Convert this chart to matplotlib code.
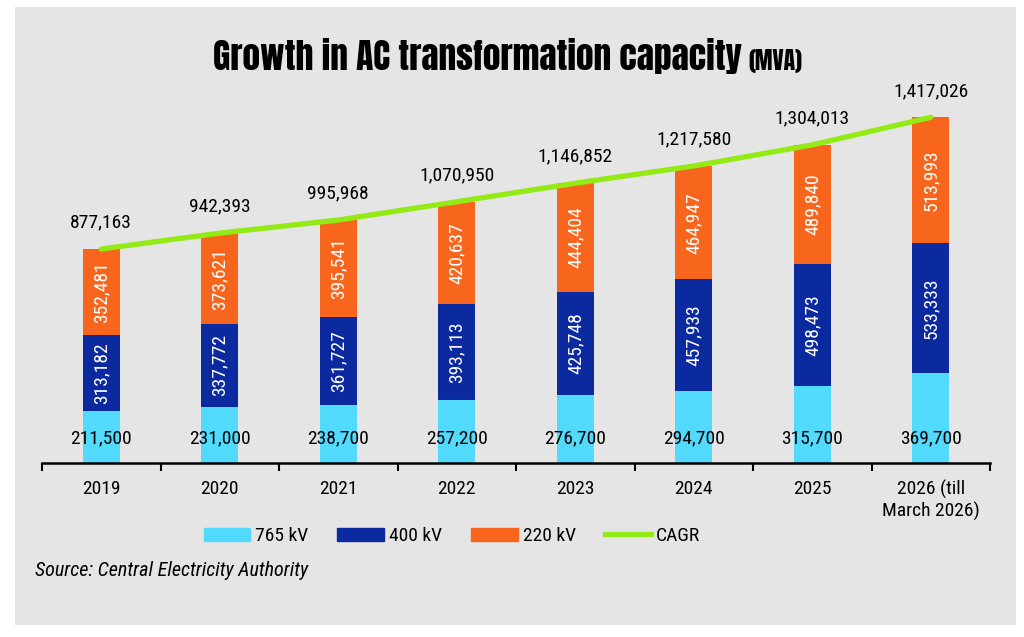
import matplotlib
matplotlib.use("Agg")
import matplotlib.pyplot as plt
from matplotlib import font_manager
from matplotlib.patches import Rectangle, Patch
from matplotlib.lines import Line2D

years = ['2019', '2020', '2021', '2022', '2023', '2024', '2025', '2026 (till\nMarch 2026)']
kv765 = [211500, 231000, 238700, 257200, 276700, 294700, 315700, 369700]
kv400 = [313182, 337772, 361727, 393113, 425748, 457933, 498473, 533333]
kv220 = [352481, 373621, 395541, 420637, 444404, 464947, 489840, 513993]
totals = [877163, 942393, 995968, 1070950, 1146852, 1217580, 1304013, 1417026]

c765 = '#52DAFD'
c400 = '#0C2A9F'
c220 = '#F8661D'
cline = '#93EA14'

names = {f.name for f in font_manager.fontManager.ttflist}
def pick(cands):
    for c in cands:
        if c in names:
            return c
    return 'DejaVu Sans'

narrow = pick(['Liberation Sans Narrow', 'Arial Narrow', 'Roboto Condensed', 'Open Sans Condensed',
               'Liberation Sans'])
heavy = pick(['Anton', 'Bebas Neue', 'Oswald', 'Liberation Sans Narrow', 'Liberation Sans'])
plt.rcParams['font.family'] = [narrow, 'DejaVu Sans']
# regular Liberation Sans is wider than the narrow face in the picture
fs = 14 if narrow != 'Liberation Sans' else 12

fig = plt.figure(figsize=(10.24, 6.37), dpi=100)
fig.patch.set_facecolor('white')
W, H = 1024, 637
fig.patches.append(Rectangle((15 / W, 1 - 625 / H), (1016 - 15) / W, (625 - 7) / H,
                             transform=fig.transFigure, facecolor='#E5E5E5',
                             edgecolor='none', zorder=-5))

ax = fig.add_axes([42 / W, 1 - 463 / H, (990 - 42) / W, (463 - 80) / H])
ax.set_facecolor('none')
x = list(range(len(years)))
bw = 0.31

ax.bar(x, kv765, bw, color=c765, zorder=2)
ax.bar(x, kv400, bw, bottom=kv765, color=c400, zorder=2)
b220 = [a + b for a, b in zip(kv765, kv400)]
ax.bar(x, kv220, bw, bottom=b220, color=c220, zorder=2)
ax.plot(x, totals, color=cline, lw=3.8, zorder=3, solid_capstyle='round')

for i in x:
    ax.text(i, 103000, f'{kv765[i]:,}', ha='center', va='center', fontsize=fs, color='black', zorder=4)
    ax.text(i, kv765[i] + kv400[i] / 2, f'{kv400[i]:,}', ha='center', va='center',
            rotation=90, fontsize=fs, color='white', zorder=4)
    ax.text(i, b220[i] + kv220[i] / 2, f'{kv220[i]:,}', ha='center', va='center',
            rotation=90, fontsize=fs, color='white', zorder=4)
    ax.annotate(f'{totals[i]:,}', (i, totals[i]), xytext=(0, 19), textcoords='offset points',
                ha='center', va='center', fontsize=fs, color='black', zorder=4)

ax.set_xlim(-0.5, len(years) - 0.5)
ax.set_ylim(0, 1570000)
ax.set_yticks([])
for s in ['left', 'right', 'top']:
    ax.spines[s].set_visible(False)
ax.spines['bottom'].set_linewidth(1.8)
ax.set_xticks(x)
ax.set_xticklabels(years, fontsize=fs, linespacing=1.2)
ax.tick_params(axis='x', which='major', length=0, pad=12)
ax.set_xticks([i - 0.5 for i in range(len(years) + 1)], minor=True)
ax.tick_params(axis='x', which='minor', length=6, width=1.5, direction='out')

handles = [Patch(color=c765), Patch(color=c400), Patch(color=c220),
           Line2D([0], [0], color=cline, lw=3.8)]
fig.legend(handles, ['765 kV', '400 kV', '220 kV', 'CAGR'], ncol=4, frameon=False,
           loc='center', bbox_to_anchor=(452 / W, 1 - 536 / H), fontsize=fs,
           handlelength=2.4, handleheight=0.65, handletextpad=0.25, columnspacing=1.5)

fig.text(35 / W, 1 - 570 / H, 'Source: Central Electricity Authority', fontsize=fs + 0.5,
         style='italic', ha='left', va='center')

fig.text(742 / W, 1 - 70 / H, 'Growth in AC transformation capacity', fontsize=25.5,
         family=heavy, ha='right', va='baseline')
fig.text(748 / W, 1 - 70 / H, '(MVA)', fontsize=17, family=heavy,
         ha='left', va='baseline')

fig.savefig('out.png', dpi=100, facecolor=fig.get_facecolor())
